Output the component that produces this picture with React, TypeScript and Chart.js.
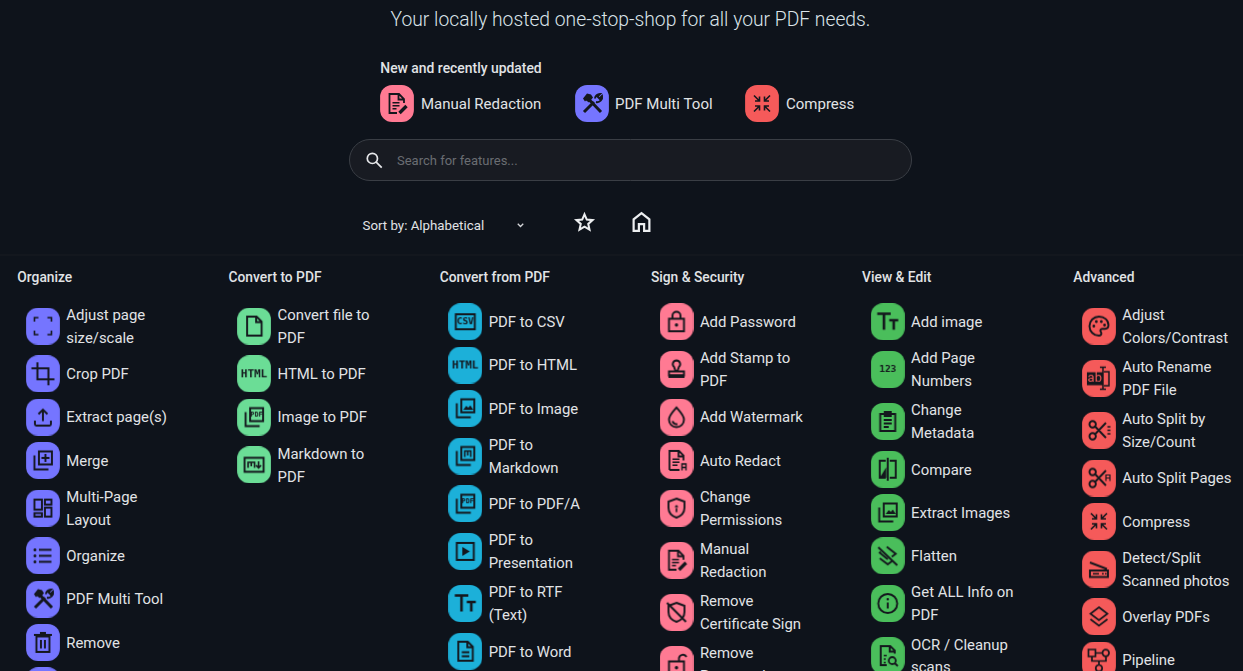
import React, { useEffect, useRef } from 'react';
import { Chart, registerables } from 'chart.js';

Chart.register(...registerables);

const sectionTitles = ['Organize', 'Convert to PDF', 'Convert from PDF', 'Sign & Security', 'View & Edit', 'Advanced'];
const sectionColors = ['#7575ff', '#6bdd96', '#1cb0d9', '#ff7a93', '#4abe5b', '#f55a5a'];

const organizeTools = ['Adjust page\nsize/scale', 'Crop PDF', 'Extract page(s)', 'Merge', 'Multi-Page\nLayout', 'Organize', 'PDF Multi Tool', 'Remove', 'Rotate'];
const organizeIcons = ['corners', 'crop', 'upload', 'libraryAdd', 'dashboard', 'list', 'tools', 'trash', 'corners'];

const convertToTools = ['Convert file to\nPDF', 'HTML to PDF', 'Image to PDF', 'Markdown to\nPDF'];
const convertToIcons = ['file', 'html', 'stackPdf', 'markdown'];

const convertFromTools = ['PDF to CSV', 'PDF to HTML', 'PDF to Image', 'PDF to\nMarkdown', 'PDF to PDF/A', 'PDF to\nPresentation', 'PDF to RTF\n(Text)', 'PDF to Word'];
const convertFromIcons = ['csv', 'html', 'stackImage', 'stackM', 'stackPdf', 'slides', 'title', 'doc'];

const securityTools = ['Add Password', 'Add Stamp to\nPDF', 'Add Watermark', 'Auto Redact', 'Change\nPermissions', 'Manual\nRedaction', 'Remove\nCertificate Sign', 'Remove\nPassword'];
const securityIcons = ['lock', 'stamp', 'drop', 'redact', 'shieldLock', 'editDoc', 'shieldOff', 'lockOpen'];

const viewTools = ['Add image', 'Add Page\nNumbers', 'Change\nMetadata', 'Compare', 'Extract Images', 'Flatten', 'Get ALL Info on\nPDF', 'OCR / Cleanup\nscans'];
const viewIcons = ['title', 'numbers', 'clipboard', 'compare', 'stackImage', 'flatten', 'info', 'scanDoc'];

const advancedTools = ['Adjust\nColors/Contrast', 'Auto Rename\nPDF File', 'Auto Split by\nSize/Count', 'Auto Split Pages', 'Compress', 'Detect/Split\nScanned photos', 'Overlay PDFs', 'Pipeline'];
const advancedIcons = ['palette', 'rename', 'scissorsLines', 'scissorsA', 'compress', 'scanner', 'layers', 'tree'];

const sectionTools = [organizeTools, convertToTools, convertFromTools, securityTools, viewTools, advancedTools];
const sectionIcons = [organizeIcons, convertToIcons, convertFromIcons, securityIcons, viewIcons, advancedIcons];

const featuredTools = ['Manual Redaction', 'PDF Multi Tool', 'Compress'];
const featuredIcons = ['editDoc', 'tools', 'compress'];
const featuredColors = ['#ff7a93', '#7575ff', '#f55a5a'];

const WIDTH = 1243;
const HEIGHT = 671;
const BG = '#0e131b';
const TEXT = '#e1e3e6';
const INK = '#14171d';
const FONT = 'Roboto, sans-serif';

type Mark = { s?: string; f?: string; w?: number; t?: [string, number, number, string] };

const stack = 'M8 3h13v13H8z M3.5 7v14h14';
const file = 'M5 2.5h9.5L19.5 7.5v14H5z M14 2.5v5.5h5.5';
const shield = 'M12 2.5l8 3v6c0 5-3.4 8.4-8 10-4.6-1.6-8-5-8-10v-6z';
const mono = '"DejaVu Sans Mono", monospace';

// hand drawn glyphs on a 24 unit box
const glyphs: Record<string, Mark[]> = {
  corners: [{ s: 'M3.5 7.5v-4h4 M16.5 3.5h4v4 M3.5 16.5v4h4 M20.5 16.5v4h-4', w: 1.6 }],
  crop: [{ s: 'M6.5 0.5v17h17 M0.5 6.5h17v17', w: 2 }],
  upload: [{ s: 'M12 16V4.5 M7.5 9l4.5-4.5L16.5 9 M4 15.5v3.5a1.5 1.5 0 0 0 1.5 1.5h13a1.5 1.5 0 0 0 1.5-1.5v-3.5' }],
  libraryAdd: [{ s: stack }, { s: 'M14.5 5.5v8 M10.5 9.5h8' }],
  dashboard: [{ s: 'M3.5 3.5h7.5v10H3.5z M14 3.5h6.5v5H14z M3.5 17h7.5v3.5H3.5z M14 11.5h6.5v9H14z' }],
  list: [{ s: 'M8 6h12.5 M8 12h12.5 M8 18h12.5' }, { f: 'M2.5 6a1.5 1.5 0 1 0 3 0a1.5 1.5 0 1 0-3 0z M2.5 12a1.5 1.5 0 1 0 3 0a1.5 1.5 0 1 0-3 0z M2.5 18a1.5 1.5 0 1 0 3 0a1.5 1.5 0 1 0-3 0z' }],
  tools: [{ s: 'M4 20.5L14 10.5 M9 8l12 12.5', w: 3 }, { f: 'M3 7l4-5 4 1 2 3-4 5-3-2-1 1z' }, { s: 'M15 7a5 5 0 0 1 5-4.5l-2.5 2.5 2 2 2.5-2.5a5 5 0 0 1-6 6', w: 2 }],
  trash: [{ s: 'M5.5 6h13v15.5h-13z M3 4.5h18 M9 2.5h6 M10 9.5v8.5 M14 9.5v8.5' }],
  file: [{ s: file }],
  html: [{ t: ['HTML', 12, 12.5, 'bold 11px ' + mono] }],
  csv: [{ s: 'M2.5 4.5h19v15h-19z' }, { t: ['CSV', 12, 12.5, 'bold 9.5px ' + mono] }],
  stackPdf: [{ s: stack }, { t: ['PDF', 14.5, 9.7, 'bold 6.8px ' + mono] }],
  stackImage: [{ s: stack }, { f: 'M10 13.5l3-4 2 2 2-2.5 3 4.5z' }],
  stackM: [{ s: stack }, { s: 'M11.5 13V7h6v6 M14.5 7v4.5', w: 1.5 }],
  markdown: [{ s: 'M2.5 5h19v14h-19z' }, { s: 'M6 15V9.5h6.5V15 M9.2 9.5V13.5 M16.5 8.5v6.5 M14 12.5l2.5 2.5 2.5-2.5', w: 1.6 }],
  slides: [{ s: 'M3.5 3.5h17v17h-17z' }, { f: 'M9 7.5l7.5 4.5L9 16.5z' }],
  title: [{ s: 'M1.5 4h13.5 M8.2 4v16 M13.5 10.5h9 M18 10.5V20', w: 2.6 }],
  doc: [{ s: file }, { s: 'M8.5 13h7.5 M8.5 17h7.5' }],
  lock: [{ s: 'M4.5 9h15v12.5h-15z M8 9V6a4 4 0 0 1 8 0v3' }, { f: 'M10.3 15.2a1.7 1.7 0 1 0 3.4 0a1.7 1.7 0 1 0-3.4 0z' }],
  lockOpen: [{ s: 'M4.5 9h15v12.5h-15z M14.5 9V5.5a4 4 0 0 1 7.5-1' }, { f: 'M10.3 15.2a1.7 1.7 0 1 0 3.4 0a1.7 1.7 0 1 0-3.4 0z' }],
  stamp: [{ s: 'M12 3a3.7 3.7 0 0 0-2.4 6.5L11 13.5h2l1.4-4A3.7 3.7 0 0 0 12 3z M4.5 14h15v4h-15z' }, { f: 'M4 17h16v3.5H4z' }],
  drop: [{ s: 'M12 2.5C8 7 4.5 10.5 4.5 14.5a7.5 7.5 0 0 0 15 0C19.5 10.5 16 7 12 2.5z M8 16a4.5 4.5 0 0 0 5 3' }],
  redact: [{ s: 'M5 21.5V2.5h9.5L19 7v5 M14 2.5V8h5 M5 21.5h10', w: 1.8 }, { f: 'M8 10h7v1.6H8z M8 13h7v1.6H8z M8 16h5v1.6H8z' }, { s: 'M17.5 22v-6.5h4V22 M17.5 19h4', w: 1.4 }],
  shieldLock: [{ s: shield }, { f: 'M10.5 10.5a1.5 1.5 0 1 0 3 0a1.5 1.5 0 1 0-3 0z M11.2 11h1.6v5h-1.6z' }],
  editDoc: [{ s: 'M12 21.5H4.5V2.5H14l5 5v4 M13.5 2.5V8h5.5', w: 1.8 }, { f: 'M7.5 10.5h7v1.6h-7z M7.5 13.5h7v1.6h-7z M7.5 16.5h4v1.6h-4z' }, { s: 'M14.5 21.5l7-7', w: 3.4 }],
  shieldOff: [{ s: shield }, { s: 'M2.5 2.5l19 19' }],
  numbers: [{ t: ['123', 12, 12.5, 'bold 9.5px ' + mono] }],
  clipboard: [{ s: 'M4.5 4.5h15v17h-15z M9 2.5h6v4H9z M8 10.5h8 M8 14h8 M8 17.5h5' }],
  compare: [{ s: 'M12 0.5v23 M10 3.5H4v17h6 M14 3.5h6v17h-6' }, { f: 'M10.5 10v10.5H4z' }],
  flatten: [{ s: 'M11 3l9 7-4 3 M5 8L4 9l8 6.5 M4 14.5l8 6 4-3 M2.5 3.5l19 18' }],
  info: [{ s: 'M2.5 12a9.5 9.5 0 1 0 19 0a9.5 9.5 0 1 0-19 0z M12 11v6' }, { f: 'M10.8 7.8a1.2 1.2 0 1 0 2.4 0a1.2 1.2 0 1 0-2.4 0z' }],
  scanDoc: [{ s: 'M11 21.5H5V2.5h9.5L19 7v3 M14 2.5V8h5' }, { s: 'M8 12h3 M8 15.5h2 M8 19h2', w: 1.6 }, { s: 'M13 17a3.5 3.5 0 1 0 7 0a3.5 3.5 0 1 0-7 0z M19 19.5l3 3', w: 1.8 }],
  palette: [{ s: 'M12 2.5a9.5 9.5 0 0 0 0 19c1.6 0 2.4-1 2.4-2.2 0-1.4-1-1.6-1-2.8 0-1 .9-1.8 2-1.8h2.6c2.2 0 3.5-1.6 3.5-3.6C21.5 6 17.5 2.5 12 2.5z' }, { f: 'M5.5 12a1.4 1.4 0 1 0 2.8 0a1.4 1.4 0 1 0-2.8 0z M8 7.5a1.4 1.4 0 1 0 2.8 0a1.4 1.4 0 1 0-2.8 0z M13 7.5a1.4 1.4 0 1 0 2.8 0a1.4 1.4 0 1 0-2.8 0z M16.2 11a1.4 1.4 0 1 0 2.8 0a1.4 1.4 0 1 0-2.8 0z' }],
  rename: [{ f: 'M0 6h16v13H0z' }, { s: 'M17 5.5h5v14h-5 M13 1h6 M13 23h6 M16 1v22', w: 1.5 }, { t: ['ab', 7.8, 12.6, '13px ' + FONT], w: -1 }],
  scissorsLines: [{ s: 'M2.5 6a3.2 3.2 0 1 0 6.4 0a3.2 3.2 0 1 0-6.4 0z M2.5 18a3.2 3.2 0 1 0 6.4 0a3.2 3.2 0 1 0-6.4 0z M8 8l11 11.5 M8 16L19 4.5' }, { s: 'M20.5 8.5h3 M20.5 12h3 M20.5 15.5h3', w: 1.3 }],
  scissorsA: [{ s: 'M2.5 6a3.2 3.2 0 1 0 6.4 0a3.2 3.2 0 1 0-6.4 0z M2.5 18a3.2 3.2 0 1 0 6.4 0a3.2 3.2 0 1 0-6.4 0z M8 8l11 11.5 M8 16L19 4.5' }, { s: 'M19 15V9h4v6 M19 12h4', w: 1.2 }],
  compress: [{ s: 'M4 4l5.5 5.5 M9.5 5v4.5H5 M20 4l-5.5 5.5 M14.5 5v4.5H19 M4 20l5.5-5.5 M5 14.5h4.5V19 M20 20l-5.5-5.5 M19 14.5h-4.5V19', w: 1.6 }],
  scanner: [{ s: 'M3 5.5l17 6.5 M3 13.5h18v6.5H3z' }, { f: 'M6 16h6v1.6H6z M15 16h1.8v1.6H15z M18 16h1.6v1.6H18z' }],
  layers: [{ s: 'M12 2.5l8.5 6.5-8.5 6.5L3.5 9z M3.5 14.5l8.5 6.5 8.5-6.5', w: 1.7 }],
  tree: [{ s: 'M1.5 1.5h7v7h-7z M15.5 5a3.3 3.3 0 1 0 6.6 0a3.3 3.3 0 1 0-6.6 0z M8.5 5h7 M5 8.5v4.5h14V8.5 M12 13v4 M8.8 20.2a3.2 3.2 0 1 0 6.4 0a3.2 3.2 0 1 0-6.4 0z', w: 1.7 }],
  search: [{ s: 'M3.5 9.5a6 6 0 1 0 12 0a6 6 0 1 0-12 0z M14 14l6.5 6.5', w: 2 }],
  chevron: [{ s: 'M6.5 9.5L12 15l5.5-5.5', w: 2.6 }],
  star: [{ s: 'M12 3l2.7 6.2 6.8.6-5.1 4.5 1.5 6.7L12 17.5 6.1 21l1.5-6.7-5.1-4.5 6.8-.6z', w: 2.4 }],
  home: [{ s: 'M4.5 20.5V9.5L12 3.5l7.5 6v11h-5v-6.5h-5v6.5z', w: 2.1 }],
};

function paintGlyph(ctx: CanvasRenderingContext2D, name: string, cx: number, cy: number, scale: number, ink: string, paper: string) {
  ctx.save();
  ctx.translate(cx, cy);
  ctx.scale(scale, scale);
  ctx.translate(-12, -12);
  ctx.lineWidth = 2;
  ctx.lineJoin = 'miter';
  for (const m of glyphs[name]) {
    ctx.strokeStyle = ink;
    ctx.fillStyle = ink;
    if (m.s) {
      ctx.lineWidth = m.w || 1.9;
      ctx.stroke(new Path2D(m.s));
    }
    if (m.f) ctx.fill(new Path2D(m.f));
    if (m.t) {
      ctx.fillStyle = m.w === -1 ? paper : ink;
      ctx.font = m.t[3];
      ctx.textAlign = 'center';
      ctx.textBaseline = 'middle';
      ctx.fillText(m.t[0], m.t[1], m.t[2]);
    }
  }
  ctx.restore();
}

function makeTile(color: string, icon: string) {
  const c = document.createElement('canvas');
  c.width = 34;
  c.height = 37;
  const ctx = c.getContext('2d')!;
  ctx.fillStyle = color;
  ctx.beginPath();
  ctx.roundRect(0.1, 0.1, 33.8, 36.8, 12);
  ctx.fill();
  paintGlyph(ctx, icon, 17, 18.5, 1, INK, color);
  return c;
}

// sections flow down the page: a row grows with its wrapped name
function rowCentres(tools: string[]) {
  let top = 303.3;
  return tools.map((name) => {
    const lines = name.split('\n').length;
    const h = lines > 1 ? lines * 22.8 : 36.8;
    const centre = top + h / 2;
    top += h + 6.5;
    return centre;
  });
}

function sectionX(i: number) {
  return 42.9 + 211.2 * i;
}

const pagePlugin = {
  id: 'page',
  beforeDraw(chart: any) {
    const { ctx } = chart;
    ctx.save();
    ctx.fillStyle = BG;
    ctx.fillRect(0, 0, WIDTH, HEIGHT);
    ctx.fillStyle = '#181b22';
    ctx.strokeStyle = '#3a3e45';
    ctx.lineWidth = 1;
    ctx.beginPath();
    ctx.roundRect(349.5, 139.5, 562, 41, 20.5);
    ctx.fill();
    ctx.stroke();
    ctx.fillStyle = '#181c23';
    ctx.fillRect(0, 254.5, WIDTH, 1);
    ctx.restore();
  },
  afterDraw(chart: any) {
    const { ctx } = chart;
    const text = (s: string, x: number, y: number, font: string, color: string, align: CanvasTextAlign = 'left') => {
      ctx.font = font;
      ctx.fillStyle = color;
      ctx.textAlign = align;
      ctx.textBaseline = 'middle';
      ctx.fillText(s, x, y);
    };
    ctx.save();
    text('Your locally hosted one-stop-shop for all your PDF needs.', 630.5, 21, '300 19.3px ' + FONT, '#dbe4ea', 'center');
    text('New and recently updated', 380.3, 69.5, '500 13.9px ' + FONT, TEXT);
    const featuredTextX = [421, 615, 786];
    featuredTools.forEach((name, i) => text(name, featuredTextX[i], 105, '15px ' + FONT, TEXT));
    text('Search for features...', 397, 161.5, '13px ' + FONT, '#6a6d72');
    text('Sort by: Alphabetical', 362.5, 227, '13.3px ' + FONT, TEXT);
    sectionTitles.forEach((title, i) => {
      text(title, 17.3 + 211.2 * i, 278.5, '500 13.8px ' + FONT, TEXT);
      const centres = rowCentres(sectionTools[i]);
      sectionTools[i].forEach((name, r) => {
        const lines = name.split('\n');
        lines.forEach((line, l) => {
          const y = chart.scales.y.getPixelForValue(centres[r]) + (l - (lines.length - 1) / 2) * 22.8 + 1.6;
          text(line, chart.scales.x.getPixelForValue(sectionX(i)) + 23.4, y, '14.9px ' + FONT, TEXT);
        });
      });
    });
    paintGlyph(ctx, 'search', 374.5, 160.5, 0.85, '#e6e7ea', BG);
    paintGlyph(ctx, 'chevron', 520.5, 225, 0.5, '#d5d7da', BG);
    paintGlyph(ctx, 'star', 584.5, 222, 0.85, '#eceef0', BG);
    paintGlyph(ctx, 'home', 641.5, 222, 1.05, '#eceef0', BG);
    ctx.restore();
  },
};

export default function App() {
  const canvasRef = useRef<HTMLCanvasElement>(null);

  useEffect(() => {
    document.body.style.margin = '0';
    document.body.style.background = BG;
    if (!canvasRef.current) return;
    canvasRef.current.getContext('2d', { alpha: false });

    const datasets: any[] = sectionTools.map((tools, i) => {
      const centres = rowCentres(tools);
      return {
        label: sectionTitles[i],
        data: tools.map((_, r) => ({ x: sectionX(i), y: centres[r] })),
        pointStyle: sectionIcons[i].map((icon) => makeTile(sectionColors[i], icon)),
        pointRadius: 19,
        clip: false,
      };
    });
    datasets.push({
      label: 'New and recently updated',
      data: [{ x: 397, y: 103.5 }, { x: 592, y: 103.5 }, { x: 762, y: 103.5 }],
      pointStyle: featuredIcons.map((icon, i) => makeTile(featuredColors[i], icon)),
      pointRadius: 19,
      clip: false,
    });

    const chart = new Chart(canvasRef.current, {
      type: 'scatter',
      data: { datasets },
      options: {
        responsive: false,
        animation: false,
        layout: { padding: 0, autoPadding: false },
        plugins: { legend: { display: false }, title: { display: false }, tooltip: { enabled: false } },
        events: [],
        scales: {
          x: { type: 'linear', display: false, min: 0, max: WIDTH },
          y: { type: 'linear', display: false, min: 0, max: HEIGHT, reverse: true },
        },
      },
      plugins: [pagePlugin],
    } as any);

    return () => {
      chart.destroy();
    };
  }, []);

  return <canvas ref={canvasRef} width={WIDTH} height={HEIGHT} style={{ display: 'block' }} />;
}
